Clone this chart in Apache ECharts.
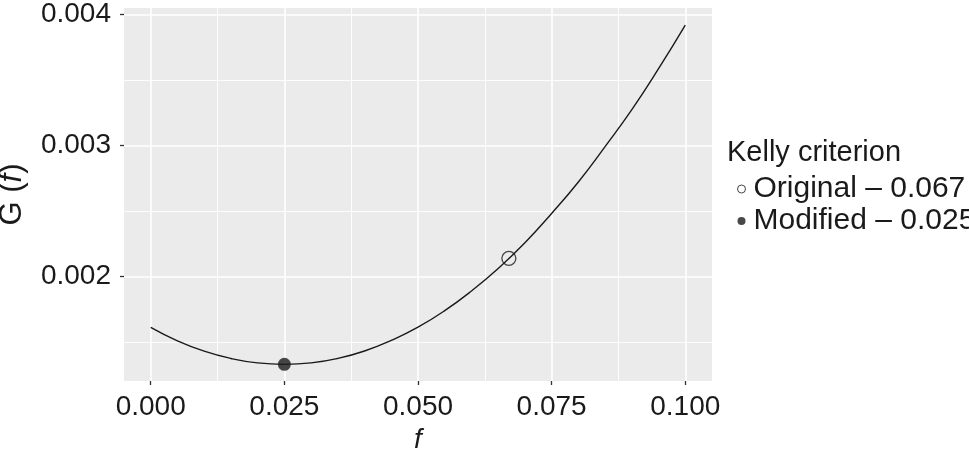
<!DOCTYPE html>
<html>
<head>
<meta charset="utf-8">
<script src="https://cdn.jsdelivr.net/npm/echarts@6/dist/echarts.min.js"></script>
<style>html,body{margin:0;padding:0;background:#fff;}#c{width:969px;height:453px;}</style>
</head>
<body>
<div id="c"></div>
<script>
// Data
const fValues = [0.000, 0.005, 0.010, 0.015, 0.020, 0.025, 0.030, 0.035, 0.040, 0.045, 0.050,
                 0.055, 0.060, 0.065, 0.070, 0.075, 0.080, 0.085, 0.090, 0.095, 0.100];
const gValues = [0.001611, 0.001508, 0.001429, 0.001373, 0.001339, 0.001328, 0.001339, 0.001373, 0.001430, 0.001511, 0.001612,
                 0.001738, 0.001888, 0.002060, 0.002256, 0.002480, 0.002720, 0.002990, 0.003272, 0.003585, 0.003918];
const originalPoint = [0.067, 0.002137];
const modifiedPoint = [0.025, 0.001328];
const legendTitle = 'Kelly criterion';
const seriesNames = ['Original \u2013 0.067', 'Modified \u2013 0.025'];
const xTicks = [0.000, 0.025, 0.050, 0.075, 0.100];
const xMinor = [0.0125, 0.0375, 0.0625, 0.0875];
const yTicks = [0.002, 0.003, 0.004];
const yMinor = [0.0015, 0.0025, 0.0035];
const xRange = [-0.005, 0.105];
const yRange = [0.001201, 0.004048];

const FONT = '"Liberation Sans", Arial, Helvetica, sans-serif';
const TXT = '#1a1a1a';

const curve = fValues.map((f, i) => [f, gValues[i]]);

const MAJOR = 1.6, MINOR = 0.9;
const gridLines = [];
const vLine = (v, w) => [{coord: [v, yRange[0]], lineStyle: {width: w}}, {coord: [v, yRange[1]]}];
const hLine = (v, w) => [{coord: [xRange[0], v], lineStyle: {width: w}}, {coord: [xRange[1], v]}];
xMinor.forEach(v => gridLines.push(vLine(v, MINOR)));
yMinor.forEach(v => gridLines.push(hLine(v, MINOR)));
xTicks.forEach(v => gridLines.push(vLine(v, MAJOR)));
yTicks.forEach(v => gridLines.push(hLine(v, MAJOR)));

const chart = echarts.init(document.getElementById('c'), null, {renderer: 'canvas'});
chart.setOption({
  animation: false,
  backgroundColor: '#ffffff',
  textStyle: {fontFamily: FONT},
  title: {
    text: legendTitle,
    left: 727, top: 137, padding: 0,
    textStyle: {fontFamily: FONT, fontSize: 29, fontWeight: 'normal', color: TXT, lineHeight: 32}
  },
  legend: {
    orient: 'vertical',
    left: 737, top: 174,
    padding: 0,
    itemGap: 2,
    itemWidth: 14, itemHeight: 8,
    selectedMode: false,
    textStyle: {fontFamily: FONT, fontSize: 30, color: TXT, lineHeight: 30},
    data: [
      {name: seriesNames[0], icon: 'circle', itemStyle: {color: 'transparent', borderColor: TXT, borderWidth: 1}},
      {name: seriesNames[1], icon: 'circle', itemStyle: {color: TXT, borderWidth: 0}}
    ]
  },
  grid: {
    left: 124, right: 257, top: 8, bottom: 72,
    containLabel: false,
    outerBoundsMode: 'none',
    show: true, backgroundColor: '#EBEBEB', borderWidth: 0
  },
  xAxis: {
    type: 'value',
    min: xRange[0], max: xRange[1],
    name: 'f',
    nameLocation: 'middle',
    nameGap: 45,
    nameTextStyle: {fontFamily: FONT, fontSize: 28, fontStyle: 'italic', color: TXT},
    axisLine: {show: false, onZero: false},
    axisTick: {show: true, length: 4, lineStyle: {color: '#333333', width: 1.3}, customValues: xTicks},
    axisLabel: {
      customValues: xTicks, margin: 12,
      fontFamily: FONT, fontSize: 28, color: TXT,
      formatter: v => v.toFixed(3)
    },
    splitLine: {show: false}
  },
  yAxis: {
    type: 'value',
    min: yRange[0], max: yRange[1],
    name: '{n|G (}{i|f}{n|)}',
    nameLocation: 'middle',
    nameGap: 96,
    nameRotate: 90,
    nameTextStyle: {
      fontFamily: FONT, fontSize: 31, color: TXT,
      rich: {
        n: {fontFamily: FONT, fontSize: 31, color: TXT},
        i: {fontFamily: FONT, fontSize: 31, color: TXT, fontStyle: 'italic'}
      }
    },
    axisLine: {show: false, onZero: false},
    axisTick: {show: true, length: 4, lineStyle: {color: '#333333', width: 1.3}, customValues: yTicks},
    axisLabel: {
      customValues: yTicks, margin: 13,
      fontFamily: FONT, fontSize: 28, color: TXT,
      formatter: v => v.toFixed(3)
    },
    splitLine: {show: false}
  },
  series: [
    {
      name: 'curve',
      type: 'line',
      z: 3,
      data: curve,
      smooth: true,
      showSymbol: false,
      silent: true,
      lineStyle: {color: TXT, width: 1.4},
      markLine: {
        z: 1,
        silent: true,
        symbol: ['none', 'none'],
        label: {show: false},
        emphasis: {disabled: true},
        lineStyle: {color: '#ffffff', type: 'solid'},
        animation: false,
        data: gridLines
      }
    },
    {
      name: seriesNames[0],
      type: 'scatter',
      z: 4,
      data: [originalPoint],
      symbol: 'circle',
      symbolSize: 14,
      itemStyle: {color: 'transparent', borderColor: TXT, borderWidth: 1.3}
    },
    {
      name: seriesNames[1],
      type: 'scatter',
      z: 4,
      data: [modifiedPoint],
      symbol: 'circle',
      symbolSize: 13,
      itemStyle: {color: TXT}
    }
  ]
});
</script>
</body>
</html>
